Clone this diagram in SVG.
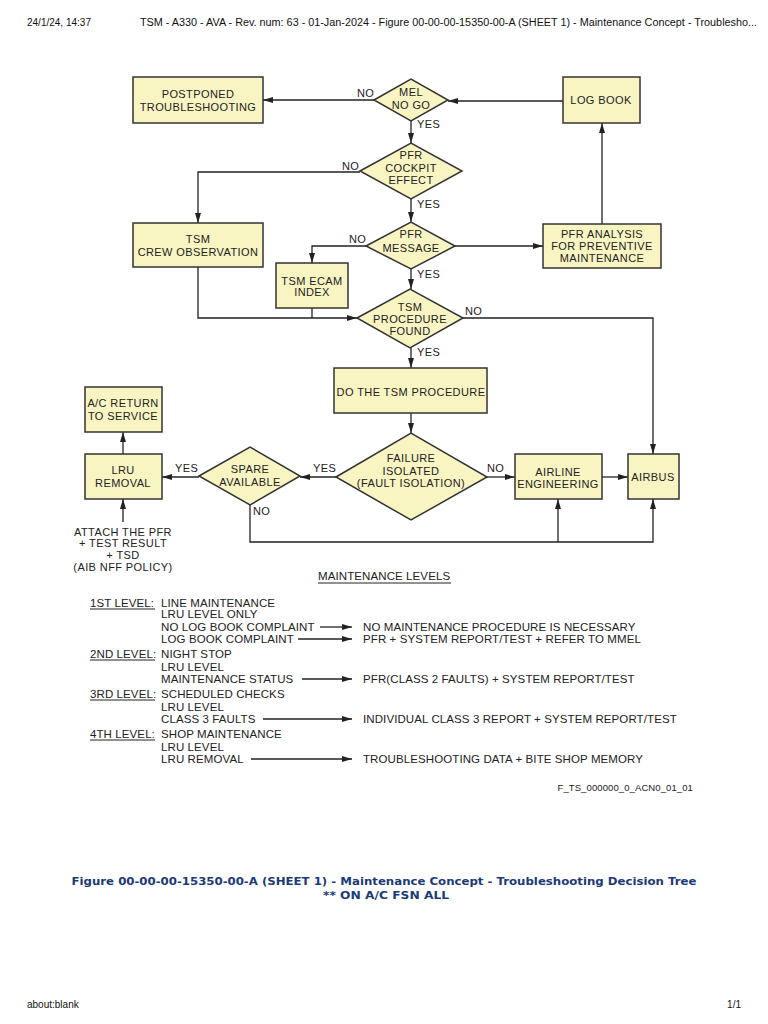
<svg xmlns="http://www.w3.org/2000/svg" width="768" height="1024" viewBox="0 0 768 1024">
<style>
.bx{fill:#f9f5c3;stroke:#333;stroke-width:1.5}
.t{font-family:"Liberation Sans",Arial,sans-serif;font-size:11px;letter-spacing:0.4px;fill:#222;text-anchor:middle}
.l{font-family:"Liberation Sans",Arial,sans-serif;font-size:11px;letter-spacing:0.4px;fill:#222}
.g{font-family:"Liberation Sans",Arial,sans-serif;font-size:11.5px;letter-spacing:0.1px;fill:#222}
.c{fill:none;stroke:#222;stroke-width:1.3}
.hd{font-family:"Liberation Sans",Arial,sans-serif;font-size:10px;fill:#111}
.cap{font-family:"DejaVu Sans",Verdana,sans-serif;font-size:11px;font-weight:bold;fill:#1c3a78;text-anchor:middle}
</style>
<defs>
<marker id="ah" viewBox="0 0 10 6" refX="10" refY="3" markerWidth="10" markerHeight="6" orient="auto" markerUnits="userSpaceOnUse"><path d="M0,0 L10,3 L0,6 z" fill="#222"/></marker>
</defs>
<rect width="768" height="1024" fill="#fff"/>
<text class="hd" x="27" y="26">24/1/24, 14:37</text>
<text class="hd" x="140" y="26" textLength="617" lengthAdjust="spacingAndGlyphs">TSM - A330 - AVA - Rev. num: 63 - 01-Jan-2024 - Figure 00-00-00-15350-00-A (SHEET 1) - Maintenance Concept - Troublesho...</text>

<g id="connectors">
<path class="c" d="M563,101 H448" marker-end="url(#ah)"/>
<path class="c" d="M374,100 H263" marker-end="url(#ah)"/>
<path class="c" d="M411,120 V143" marker-end="url(#ah)"/>
<path class="c" d="M360,172 H198 V223" marker-end="url(#ah)"/>
<path class="c" d="M411,199 V222" marker-end="url(#ah)"/>
<path class="c" d="M366,246 H312 V263" marker-end="url(#ah)"/>
<path class="c" d="M455,246 H543" marker-end="url(#ah)"/>
<path class="c" d="M602,224 V123" marker-end="url(#ah)"/>
<path class="c" d="M411,269 V289" marker-end="url(#ah)"/>
<path class="c" d="M198,267 V318 H357" marker-end="url(#ah)"/>
<path class="c" d="M312,308 V318"/>
<path class="c" d="M463,318 H653 V454" marker-end="url(#ah)"/>
<path class="c" d="M411,348 V368" marker-end="url(#ah)"/>
<path class="c" d="M411,413 V433" marker-end="url(#ah)"/>
<path class="c" d="M336,477 H300" marker-end="url(#ah)"/>
<path class="c" d="M199,477 H162" marker-end="url(#ah)"/>
<path class="c" d="M123,454 V432" marker-end="url(#ah)"/>
<path class="c" d="M123,522 V499" marker-end="url(#ah)"/>
<path class="c" d="M487,477 H515" marker-end="url(#ah)"/>
<path class="c" d="M602,477 H628" marker-end="url(#ah)"/>
<path class="c" d="M250,505 V542 H653 V499" marker-end="url(#ah)"/>
<path class="c" d="M558,542 V499" marker-end="url(#ah)"/>
<text class="l" x="357" y="97">NO</text>
<text class="l" x="417" y="128">YES</text>
<text class="l" x="342" y="170">NO</text>
<text class="l" x="417" y="208">YES</text>
<text class="l" x="349" y="243">NO</text>
<text class="l" x="417" y="278">YES</text>
<text class="l" x="465" y="315">NO</text>
<text class="l" x="417" y="356">YES</text>
<text class="l" x="175" y="472">YES</text>
<text class="l" x="313" y="472">YES</text>
<text class="l" x="253" y="515">NO</text>
<text class="l" x="487" y="472">NO</text>
</g>

<g id="postponed"><rect class="bx" x="133" y="77" width="130" height="46"/><text class="t" x="198" y="98">POSTPONED</text><text class="t" x="198" y="111">TROUBLESHOOTING</text></g>
<g id="mel"><path class="bx" d="M374,100 L411,79 L448,100 L411,121 z"/><text class="t" x="411" y="96">MEL</text><text class="t" x="411" y="109">NO GO</text></g>
<g id="logbook"><rect class="bx" x="563" y="77" width="77" height="46"/><text class="t" x="601" y="104">LOG BOOK</text></g>
<g id="cockpit"><path class="bx" d="M360,171 L411,143 L462,171 L411,199 z"/><text class="t" x="411" y="159">PFR</text><text class="t" x="411" y="172">COCKPIT</text><text class="t" x="411" y="184">EFFECT</text></g>
<g id="crewobs"><rect class="bx" x="133" y="223" width="130" height="44"/><text class="t" x="198" y="243">TSM</text><text class="t" x="198" y="256">CREW OBSERVATION</text></g>
<g id="pfrmsg"><path class="bx" d="M366,246 L411,222 L455,246 L411,269 z"/><text class="t" x="411" y="238">PFR</text><text class="t" x="411" y="252">MESSAGE</text></g>
<g id="pfranalysis"><rect class="bx" x="543" y="224" width="118" height="44"/><text class="t" x="602" y="238">PFR ANALYSIS</text><text class="t" x="602" y="250">FOR PREVENTIVE</text><text class="t" x="602" y="262">MAINTENANCE</text></g>
<g id="ecam"><rect class="bx" x="276" y="263" width="72" height="45"/><text class="t" x="312" y="285">TSM ECAM</text><text class="t" x="312" y="296">INDEX</text></g>
<g id="procfound"><path class="bx" d="M357,318 L410,289 L463,318 L410,348 z"/><text class="t" x="410" y="311">TSM</text><text class="t" x="410" y="323">PROCEDURE</text><text class="t" x="410" y="335">FOUND</text></g>
<g id="dotsm"><rect class="bx" x="334" y="368" width="153" height="45"/><text class="t" x="411" y="396">DO THE TSM PROCEDURE</text></g>
<g id="failure"><path class="bx" d="M336,477 L411,433 L487,477 L411,520 z"/><text class="t" x="411" y="462">FAILURE</text><text class="t" x="411" y="475">ISOLATED</text><text class="t" x="411" y="487">(FAULT ISOLATION)</text></g>
<g id="spare"><path class="bx" d="M199,476 L250,447 L300,476 L250,505 z"/><text class="t" x="250" y="473">SPARE</text><text class="t" x="250" y="486">AVAILABLE</text></g>
<g id="lru"><rect class="bx" x="85" y="454" width="77" height="45"/><text class="t" x="123" y="474">LRU</text><text class="t" x="123" y="487">REMOVAL</text></g>
<g id="acreturn"><rect class="bx" x="85" y="387" width="77" height="45"/><text class="t" x="123" y="407">A/C RETURN</text><text class="t" x="123" y="420">TO SERVICE</text></g>
<g id="airline"><rect class="bx" x="515" y="454" width="87" height="45"/><text class="t" x="558" y="476">AIRLINE</text><text class="t" x="558" y="488">ENGINEERING</text></g>
<g id="airbus"><rect class="bx" x="628" y="454" width="51" height="45"/><text class="t" x="653" y="481">AIRBUS</text></g>
<g id="attach"><text class="t" x="123" y="536">ATTACH THE PFR</text><text class="t" x="123" y="547">+ TEST RESULT</text><text class="t" x="123" y="559">+ TSD</text><text class="t" x="123" y="571">(AIB NFF POLICY)</text></g>

<g id="legend">
<text class="g" x="318" y="580">MAINTENANCE LEVELS</text>
<line x1="318" y1="583" x2="451" y2="583" stroke="#222" stroke-width="1"/>
<text class="g" x="90" y="607">1ST LEVEL:</text><line x1="90" y1="609" x2="155" y2="609" stroke="#222"/>
<text class="g" x="161" y="607">LINE MAINTENANCE</text>
<text class="g" x="161" y="618">LRU LEVEL ONLY</text>
<text class="g" x="161" y="631">NO LOG BOOK COMPLAINT</text>
<text class="g" x="161" y="643">LOG BOOK COMPLAINT</text>
<text class="g" x="90" y="658">2ND LEVEL:</text><line x1="90" y1="660" x2="155" y2="660" stroke="#222"/>
<text class="g" x="161" y="658">NIGHT STOP</text>
<text class="g" x="161" y="671">LRU LEVEL</text>
<text class="g" x="161" y="683">MAINTENANCE STATUS</text>
<text class="g" x="90" y="698">3RD LEVEL:</text><line x1="90" y1="700" x2="155" y2="700" stroke="#222"/>
<text class="g" x="161" y="698">SCHEDULED CHECKS</text>
<text class="g" x="161" y="711">LRU LEVEL</text>
<text class="g" x="161" y="723">CLASS 3 FAULTS</text>
<text class="g" x="90" y="738">4TH LEVEL:</text><line x1="90" y1="740" x2="155" y2="740" stroke="#222"/>
<text class="g" x="161" y="738">SHOP MAINTENANCE</text>
<text class="g" x="161" y="751">LRU LEVEL</text>
<text class="g" x="161" y="763">LRU REMOVAL</text>
<path class="c" d="M320,627 H352" marker-end="url(#ah)"/>
<path class="c" d="M298,639 H352" marker-end="url(#ah)"/>
<path class="c" d="M302,679 H352" marker-end="url(#ah)"/>
<path class="c" d="M263,719 H352" marker-end="url(#ah)"/>
<path class="c" d="M251,759 H352" marker-end="url(#ah)"/>
<text class="g" x="363" y="631">NO MAINTENANCE PROCEDURE IS NECESSARY</text>
<text class="g" x="363" y="643">PFR + SYSTEM REPORT/TEST + REFER TO MMEL</text>
<text class="g" x="363" y="683">PFR(CLASS 2 FAULTS) + SYSTEM REPORT/TEST</text>
<text class="g" x="363" y="723">INDIVIDUAL CLASS 3 REPORT + SYSTEM REPORT/TEST</text>
<text class="g" x="363" y="763">TROUBLESHOOTING DATA + BITE SHOP MEMORY</text>
<text class="g" x="693" y="791" text-anchor="end" style="font-size:9.5px">F_TS_000000_0_ACN0_01_01</text>
</g>

<text class="cap" x="384" y="885" textLength="625" lengthAdjust="spacingAndGlyphs">Figure 00-00-00-15350-00-A (SHEET 1) - Maintenance Concept - Troubleshooting Decision Tree</text>
<text class="cap" x="386" y="899" textLength="126" lengthAdjust="spacingAndGlyphs">** ON A/C FSN ALL</text>
<text class="hd" x="27" y="1008">about:blank</text>
<text class="hd" x="741" y="1008" text-anchor="end">1/1</text>
</svg>
